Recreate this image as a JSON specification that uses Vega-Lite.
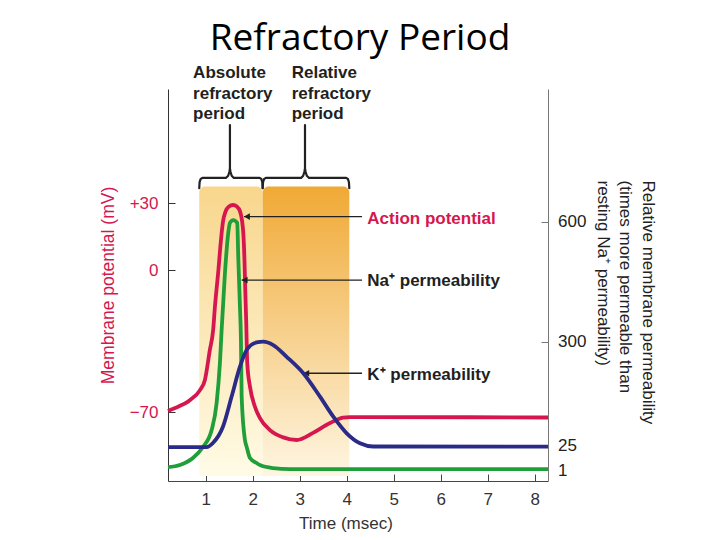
{
  "$schema": "https://vega.github.io/schema/vega-lite/v6.json",
  "width": 380,
  "height": 392,
  "autosize": {"type": "none"},
  "padding": {"left": 168, "top": 89, "right": 172, "bottom": 59},
  "background": "white",
  "config": {"view": {"stroke": null}, "font": "Liberation Sans"},
  "title": {
    "text": "Refractory   Period",
    "font": "Open Sans",
    "fontSize": 37,
    "fontWeight": "normal",
    "color": "#000000",
    "anchor": "middle",
    "dx": 2,
    "offset": 6
  },
  "datasets": {
    "zones": [
      {"zone": "abs", "t": 0.864, "t2": 2.213, "v": 37.4, "v2": -101.5},
      {"zone": "rel", "t": 2.213, "t2": 4.055, "v": 37.4, "v2": -101.5}
    ],
    "braces": [
      {"b": "abs", "o": 0, "t": 0.864, "v": 36.6},
      {"b": "abs", "o": 1, "t": 0.872, "v": 39.3},
      {"b": "abs", "o": 2, "t": 0.895, "v": 40.8},
      {"b": "abs", "o": 3, "t": 0.93, "v": 41.2},
      {"b": "abs", "o": 4, "t": 1.43, "v": 41.2},
      {"b": "abs", "o": 5, "t": 1.48, "v": 42.2},
      {"b": "abs", "o": 6, "t": 1.505, "v": 44},
      {"b": "abs", "o": 7, "t": 1.517, "v": 45.5},
      {"b": "abs", "o": 8, "t": 1.517, "v": 64.9},
      {"b": "abs", "o": 9, "t": 1.517, "v": 45.5},
      {"b": "abs", "o": 10, "t": 1.529, "v": 44},
      {"b": "abs", "o": 11, "t": 1.554, "v": 42.2},
      {"b": "abs", "o": 12, "t": 1.6, "v": 41.2},
      {"b": "abs", "o": 13, "t": 2.15, "v": 41.2},
      {"b": "abs", "o": 14, "t": 2.185, "v": 40.8},
      {"b": "abs", "o": 15, "t": 2.205, "v": 39.3},
      {"b": "abs", "o": 16, "t": 2.213, "v": 36.6},
      {"b": "rel", "o": 0, "t": 2.213, "v": 36.6},
      {"b": "rel", "o": 1, "t": 2.221, "v": 39.3},
      {"b": "rel", "o": 2, "t": 2.244, "v": 40.8},
      {"b": "rel", "o": 3, "t": 2.28, "v": 41.2},
      {"b": "rel", "o": 4, "t": 3.03, "v": 41.2},
      {"b": "rel", "o": 5, "t": 3.075, "v": 42.2},
      {"b": "rel", "o": 6, "t": 3.1, "v": 44},
      {"b": "rel", "o": 7, "t": 3.113, "v": 45.5},
      {"b": "rel", "o": 8, "t": 3.113, "v": 64.9},
      {"b": "rel", "o": 9, "t": 3.113, "v": 45.5},
      {"b": "rel", "o": 10, "t": 3.126, "v": 44},
      {"b": "rel", "o": 11, "t": 3.151, "v": 42.2},
      {"b": "rel", "o": 12, "t": 3.2, "v": 41.2},
      {"b": "rel", "o": 13, "t": 3.99, "v": 41.2},
      {"b": "rel", "o": 14, "t": 4.025, "v": 40.8},
      {"b": "rel", "o": 15, "t": 4.047, "v": 39.3},
      {"b": "rel", "o": 16, "t": 4.055, "v": 36.6}
    ],
    "ap": [
      {"t": 0.2, "v": -69.5}, {"t": 0.3, "v": -68.5}, {"t": 0.67, "v": -64.1},
      {"t": 0.88, "v": -59.2}, {"t": 0.985, "v": -54.2}, {"t": 1.09, "v": -39.4},
      {"t": 1.16, "v": -29.6}, {"t": 1.198, "v": -18.1}, {"t": 1.272, "v": 0},
      {"t": 1.326, "v": 13.4}, {"t": 1.368, "v": 21.5}, {"t": 1.421, "v": 26},
      {"t": 1.496, "v": 28.4}, {"t": 1.581, "v": 29.1}, {"t": 1.666, "v": 28.4},
      {"t": 1.73, "v": 26.4}, {"t": 1.772, "v": 22.4}, {"t": 1.804, "v": 15.7},
      {"t": 1.826, "v": 4.5}, {"t": 1.843, "v": -9.9}, {"t": 1.864, "v": -26.1},
      {"t": 1.885, "v": -45.9}, {"t": 1.943, "v": -57.5},
      {"t": 2.049, "v": -67.4}, {"t": 2.155, "v": -73}, {"t": 2.368, "v": -78.9},
      {"t": 2.651, "v": -82.5}, {"t": 2.936, "v": -83.8}, {"t": 3.283, "v": -80.3},
      {"t": 3.645, "v": -75.4}, {"t": 3.92, "v": -72.8}, {"t": 4.07, "v": -72.5},
      {"t": 8.28, "v": -72.7}
    ],
    "na": [
      {"t": 0.2, "p": 3.8}, {"t": 0.453, "p": 5.9}, {"t": 0.73, "p": 12.8},
      {"t": 0.943, "p": 23.7}, {"t": 1.128, "p": 66.5}, {"t": 1.234, "p": 138},
      {"t": 1.304, "p": 244}, {"t": 1.34, "p": 329}, {"t": 1.411, "p": 472},
      {"t": 1.481, "p": 572}, {"t": 1.517, "p": 597}, {"t": 1.587, "p": 604},
      {"t": 1.672, "p": 597}, {"t": 1.694, "p": 512}, {"t": 1.73, "p": 387},
      {"t": 1.751, "p": 304}, {"t": 1.766, "p": 155}, {"t": 1.836, "p": 40},
      {"t": 1.872, "p": 24}, {"t": 1.943, "p": 12.8}, {"t": 2.085, "p": 7.9},
      {"t": 2.155, "p": 5.9}, {"t": 2.432, "p": 2.9}, {"t": 2.794, "p": 1.9},
      {"t": 8.28, "p": 1.9}
    ],
    "k": [
      {"t": 0.2, "p": 23.5}, {"t": 1.021, "p": 23.5}, {"t": 1.155, "p": 32},
      {"t": 1.368, "p": 75}, {"t": 1.553, "p": 155}, {"t": 1.73, "p": 234},
      {"t": 1.872, "p": 278}, {"t": 2.085, "p": 298}, {"t": 2.226, "p": 300},
      {"t": 2.438, "p": 291}, {"t": 2.723, "p": 260}, {"t": 3.077, "p": 216.5},
      {"t": 3.432, "p": 154.6}, {"t": 3.715, "p": 101.7}, {"t": 4.0, "p": 57.8},
      {"t": 4.283, "p": 31.3}, {"t": 4.566, "p": 24.2}, {"t": 8.28, "p": 24}
    ],
    "arrows": [
      {"t": 1.815, "t2": 4.326, "v": 23.9},
      {"t": 1.766, "t2": 4.326, "v": -4.95},
      {"t": 3.077, "t2": 4.326, "v": -50.9}
    ],
    "labels": [
      {"t": 0.734, "v": 85.9, "txt": "Absolute"},
      {"t": 0.734, "v": 76.6, "txt": "refractory"},
      {"t": 0.734, "v": 67.5, "txt": "period"},
      {"t": 2.83, "v": 85.9, "txt": "Relative"},
      {"t": 2.83, "v": 76.6, "txt": "refractory"},
      {"t": 2.83, "v": 67.5, "txt": "period"},
      {"t": 4.438, "v": 20.6, "txt": "Action potential"},
      {"t": 4.438, "v": -7.9, "txt": "Na⁺ permeability"},
      {"t": 4.438, "v": -54.2, "txt": "K⁺ permeability"}
    ]
  },
  "encoding": {
    "x": {
      "field": "t",
      "type": "quantitative",
      "scale": {"domain": [0.2, 8.28], "nice": false, "zero": false},
      "axis": {
        "values": [1, 2, 3, 4, 5, 6, 7, 8],
        "title": "Time (msec)",
        "grid": false,
        "tickSize": -7,
        "labelPadding": 17,
        "labelFontSize": 17,
        "labelColor": "#333333",
        "domainColor": "#444444",
        "tickColor": "#444444",
        "titleFontSize": 17,
        "titleFontWeight": "normal",
        "titleColor": "#333333",
        "titleX": 177.5,
        "titleY": 47,
        "titleBaseline": "alphabetic"
      }
    }
  },
  "layer": [
    {
      "encoding": {
        "y": {
          "field": "v",
          "type": "quantitative",
          "scale": {"domain": [-104, -70, 0, 30, 81], "range": [392, 323, 181, 114, 0], "nice": false, "zero": false},
          "axis": {
            "values": [-70, 0, 30],
            "labelExpr": "datum.value > 0 ? '+' + datum.value : (datum.value < 0 ? '−' + abs(datum.value) : '0')",
            "title": "Membrane potential (mV)",
            "grid": false,
            "tickSize": -7,
            "labelPadding": 17,
            "labelFontSize": 17,
            "labelColor": "#d6174f",
            "domainColor": "#333333",
            "tickColor": "#333333",
            "titleFontSize": 17.5,
            "titleFontWeight": "normal",
            "titleColor": "#d6174f",
            "titleAngle": -90,
            "titleAlign": "center",
            "titleBaseline": "alphabetic",
            "titleX": -55,
            "titleY": 196
          }
        }
      },
      "layer": [
        {
          "data": {"name": "zones"},
          "transform": [{"filter": "datum.zone === 'abs'"}],
          "mark": {
            "type": "rect",
            "cornerRadiusTopLeft": 6,
            "cornerRadiusTopRight": 6,
            "fill": {
              "gradient": "linear", "x1": 0, "y1": 0, "x2": 0, "y2": 1,
              "stops": [{"offset": 0, "color": "#f8d68c"}, {"offset": 1, "color": "#fffbe6"}]
            }
          },
          "encoding": {"x2": {"field": "t2"}, "y2": {"field": "v2"}}
        },
        {
          "data": {"name": "zones"},
          "transform": [{"filter": "datum.zone === 'rel'"}],
          "mark": {
            "type": "rect",
            "cornerRadiusTopLeft": 6,
            "cornerRadiusTopRight": 6,
            "fill": {
              "gradient": "linear", "x1": 0, "y1": 0, "x2": 0, "y2": 1,
              "stops": [{"offset": 0, "color": "#f0a935"}, {"offset": 1, "color": "#fef6e2"}]
            }
          },
          "encoding": {"x2": {"field": "t2"}, "y2": {"field": "v2"}}
        },
        {
          "data": {"name": "braces"},
          "mark": {"type": "line", "color": "#222222", "strokeWidth": 2.2, "strokeJoin": "round", "strokeCap": "round"},
          "encoding": {"detail": {"field": "b"}, "order": {"field": "o", "type": "quantitative"}}
        },
        {
          "data": {"name": "ap"},
          "mark": {"type": "line", "color": "#d6174f", "strokeWidth": 3.8, "interpolate": "monotone"},
          "encoding": {}
        },
        {
          "data": {"name": "arrows"},
          "mark": {"type": "rule", "color": "#222222", "strokeWidth": 1.3},
          "encoding": {"x2": {"field": "t2"}}
        },
        {
          "data": {"name": "arrows"},
          "mark": {"type": "point", "shape": "triangle-left", "filled": true, "color": "#222222", "size": 45, "opacity": 1, "xOffset": 3}
        },
        {
          "data": {"name": "labels"},
          "mark": {"type": "text", "align": "left", "baseline": "alphabetic", "fontSize": 17, "fontWeight": "bold"},
          "encoding": {
            "text": {"field": "txt"},
            "color": {"condition": {"test": "datum.txt === 'Action potential'", "value": "#d6174f"}, "value": "#231f20"}
          }
        }
      ]
    },
    {
      "encoding": {
        "y": {
          "field": "p",
          "type": "quantitative",
          "scale": {"domain": [-10, 1, 25, 300, 600, 932], "range": [392, 381, 356.7, 252.7, 132.7, 0], "nice": false, "zero": false},
          "axis": {
            "orient": "right",
            "values": [1, 25, 300, 600],
            "grid": false,
            "tickSize": -7,
            "tickOpacity": {"condition": {"test": "datum.value < 100", "value": 0}, "value": 1},
            "labelPadding": 16.5,
            "labelFontSize": 17,
            "labelColor": "#222222",
            "domainColor": "#777777",
            "tickColor": "#777777",
            "title": ["Relative membrane permeability", "(times more permeable than", "resting Na⁺ permeability)"],
            "titleAngle": 90,
            "titleAlign": "left",
            "titleBaseline": "alphabetic",
            "titleX": 94,
            "titleY": 91,
            "titleFontSize": 17,
            "titleFontWeight": "normal",
            "titleLineHeight": 22.5,
            "titleColor": "#222222"
          }
        }
      },
      "layer": [
        {
          "data": {"name": "na"},
          "mark": {"type": "line", "color": "#1f9e3a", "strokeWidth": 3.8, "interpolate": "monotone"},
          "encoding": {}
        },
        {
          "data": {"name": "k"},
          "mark": {"type": "line", "color": "#2b2a86", "strokeWidth": 3.8, "interpolate": "monotone"},
          "encoding": {}
        }
      ]
    }
  ],
  "resolve": {"scale": {"y": "independent"}}
}
